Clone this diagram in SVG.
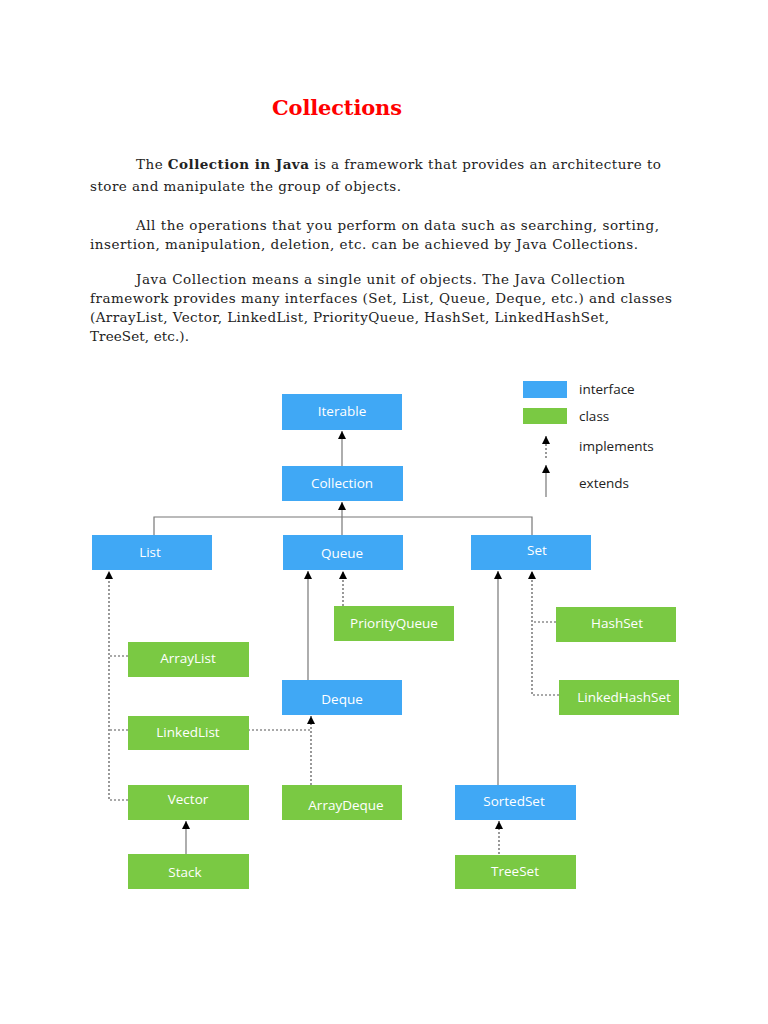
<svg xmlns="http://www.w3.org/2000/svg" width="768" height="1024" viewBox="0 0 768 1024">
<style>
.para{font-family:"DejaVu Serif","Liberation Serif",serif;font-size:13.5px;fill:#222}
.title{font-family:"DejaVu Serif","Liberation Serif",serif;font-size:21px;font-weight:bold;fill:#ff0000}
.iface{fill:#40a8f5}
.cls{fill:#7ac943}
.lbl{font-family:"Open Sans","Noto Sans",sans-serif;font-size:13.5px;fill:#fff;text-anchor:middle}
.leg{font-family:"Open Sans","Noto Sans",sans-serif;font-size:13.5px;fill:#222}
.solid{fill:none;stroke:#777;stroke-width:1.2}
.dot{fill:none;stroke:#555;stroke-width:1.2;stroke-dasharray:2 2}
</style>
<defs>
<marker id="arr" markerUnits="userSpaceOnUse" markerWidth="10" markerHeight="10" refX="8" refY="4" orient="auto">
<path d="M0,0 L8,4 L0,8 z" fill="#000"/>
</marker>
</defs>
<rect width="768" height="1024" fill="#fff"/>
<text class="title" x="272" y="115" textLength="130">Collections</text>
<text class="para" x="136" y="169" textLength="525">The <tspan font-weight="bold">Collection in Java</tspan> is a framework that provides an architecture to</text>
<text class="para" x="90" y="191" textLength="311">store and manipulate the group of objects.</text>
<text class="para" x="136" y="230" textLength="523">All the operations that you perform on data such as searching, sorting,</text>
<text class="para" x="90" y="249" textLength="548">insertion, manipulation, deletion, etc. can be achieved by Java Collections.</text>
<text class="para" x="136" y="284" textLength="489">Java Collection means a single unit of objects. The Java Collection</text>
<text class="para" x="90" y="303" textLength="582">framework provides many interfaces (Set, List, Queue, Deque, etc.) and classes</text>
<text class="para" x="90" y="322" textLength="519">(ArrayList, Vector, LinkedList, PriorityQueue, HashSet, LinkedHashSet,</text>
<text class="para" x="90" y="341" textLength="99">TreeSet, etc.).</text>

<g id="legend">
<rect class="iface" x="523" y="381" width="44" height="17"/>
<rect class="cls" x="523" y="408" width="44" height="16"/>
<text class="leg" x="579" y="394">interface</text>
<text class="leg" x="579" y="421">class</text>
<line class="dot" x1="546" y1="458" x2="546" y2="436" marker-end="url(#arr)"/>
<text class="leg" x="579" y="451">implements</text>
<line class="solid" x1="546" y1="497" x2="546" y2="465" marker-end="url(#arr)"/>
<text class="leg" x="579" y="488">extends</text>
</g>

<g id="connectors">
<line class="solid" x1="342" y1="466" x2="342" y2="431" marker-end="url(#arr)"/>
<path class="solid" d="M154,535 V517 H532 V535"/>
<line class="solid" x1="342" y1="535" x2="342" y2="502" marker-end="url(#arr)"/>
<line class="solid" x1="308" y1="680" x2="308" y2="571" marker-end="url(#arr)"/>
<line class="dot" x1="343" y1="606" x2="343" y2="571" marker-end="url(#arr)"/>
<path class="dot" d="M128,656 H109"/>
<path class="dot" d="M128,730 H109"/>
<path class="dot" d="M128,800 H109 V571" marker-end="url(#arr)"/>
<path class="dot" d="M248,730 H311 V716" marker-end="url(#arr)"/>
<path class="dot" d="M311,785 V730"/>
<line class="solid" x1="186" y1="854" x2="186" y2="821" marker-end="url(#arr)"/>
<path class="dot" d="M556,622 H532"/>
<path class="dot" d="M559,695 H532 V571" marker-end="url(#arr)"/>
<line class="solid" x1="498" y1="785" x2="498" y2="571" marker-end="url(#arr)"/>
<line class="dot" x1="499" y1="854" x2="499" y2="821" marker-end="url(#arr)"/>
</g>

<g id="Iterable"><rect class="iface" x="282" y="394" width="120" height="36"/><text class="lbl" x="342" y="416">Iterable</text></g>
<g id="Collection"><rect class="iface" x="282" y="466" width="121" height="35"/><text class="lbl" x="342" y="488">Collection</text></g>
<g id="List"><rect class="iface" x="92" y="535" width="120" height="35"/><text class="lbl" x="150" y="557">List</text></g>
<g id="Queue"><rect class="iface" x="283" y="535" width="120" height="35"/><text class="lbl" x="342" y="558">Queue</text></g>
<g id="Set"><rect class="iface" x="471" y="535" width="120" height="35"/><text class="lbl" x="537" y="555">Set</text></g>
<g id="PriorityQueue"><rect class="cls" x="334" y="606" width="120" height="35"/><text class="lbl" x="394" y="628">PriorityQueue</text></g>
<g id="HashSet"><rect class="cls" x="556" y="607" width="120" height="35"/><text class="lbl" x="617" y="628">HashSet</text></g>
<g id="ArrayList"><rect class="cls" x="128" y="642" width="121" height="35"/><text class="lbl" x="188" y="663">ArrayList</text></g>
<g id="Deque"><rect class="iface" x="282" y="680" width="120" height="35"/><text class="lbl" x="342" y="704">Deque</text></g>
<g id="LinkedHashSet"><rect class="cls" x="559" y="680" width="120" height="35"/><text class="lbl" x="624" y="702">LinkedHashSet</text></g>
<g id="LinkedList"><rect class="cls" x="128" y="716" width="121" height="34"/><text class="lbl" x="188" y="737">LinkedList</text></g>
<g id="Vector"><rect class="cls" x="128" y="785" width="121" height="35"/><text class="lbl" x="188" y="804">Vector</text></g>
<g id="ArrayDeque"><rect class="cls" x="282" y="785" width="120" height="35"/><text class="lbl" x="346" y="810">ArrayDeque</text></g>
<g id="SortedSet"><rect class="iface" x="455" y="785" width="121" height="35"/><text class="lbl" x="514" y="806">SortedSet</text></g>
<g id="Stack"><rect class="cls" x="128" y="854" width="121" height="35"/><text class="lbl" x="185" y="877">Stack</text></g>
<g id="TreeSet"><rect class="cls" x="455" y="855" width="121" height="34"/><text class="lbl" x="515" y="876">TreeSet</text></g>
</svg>
